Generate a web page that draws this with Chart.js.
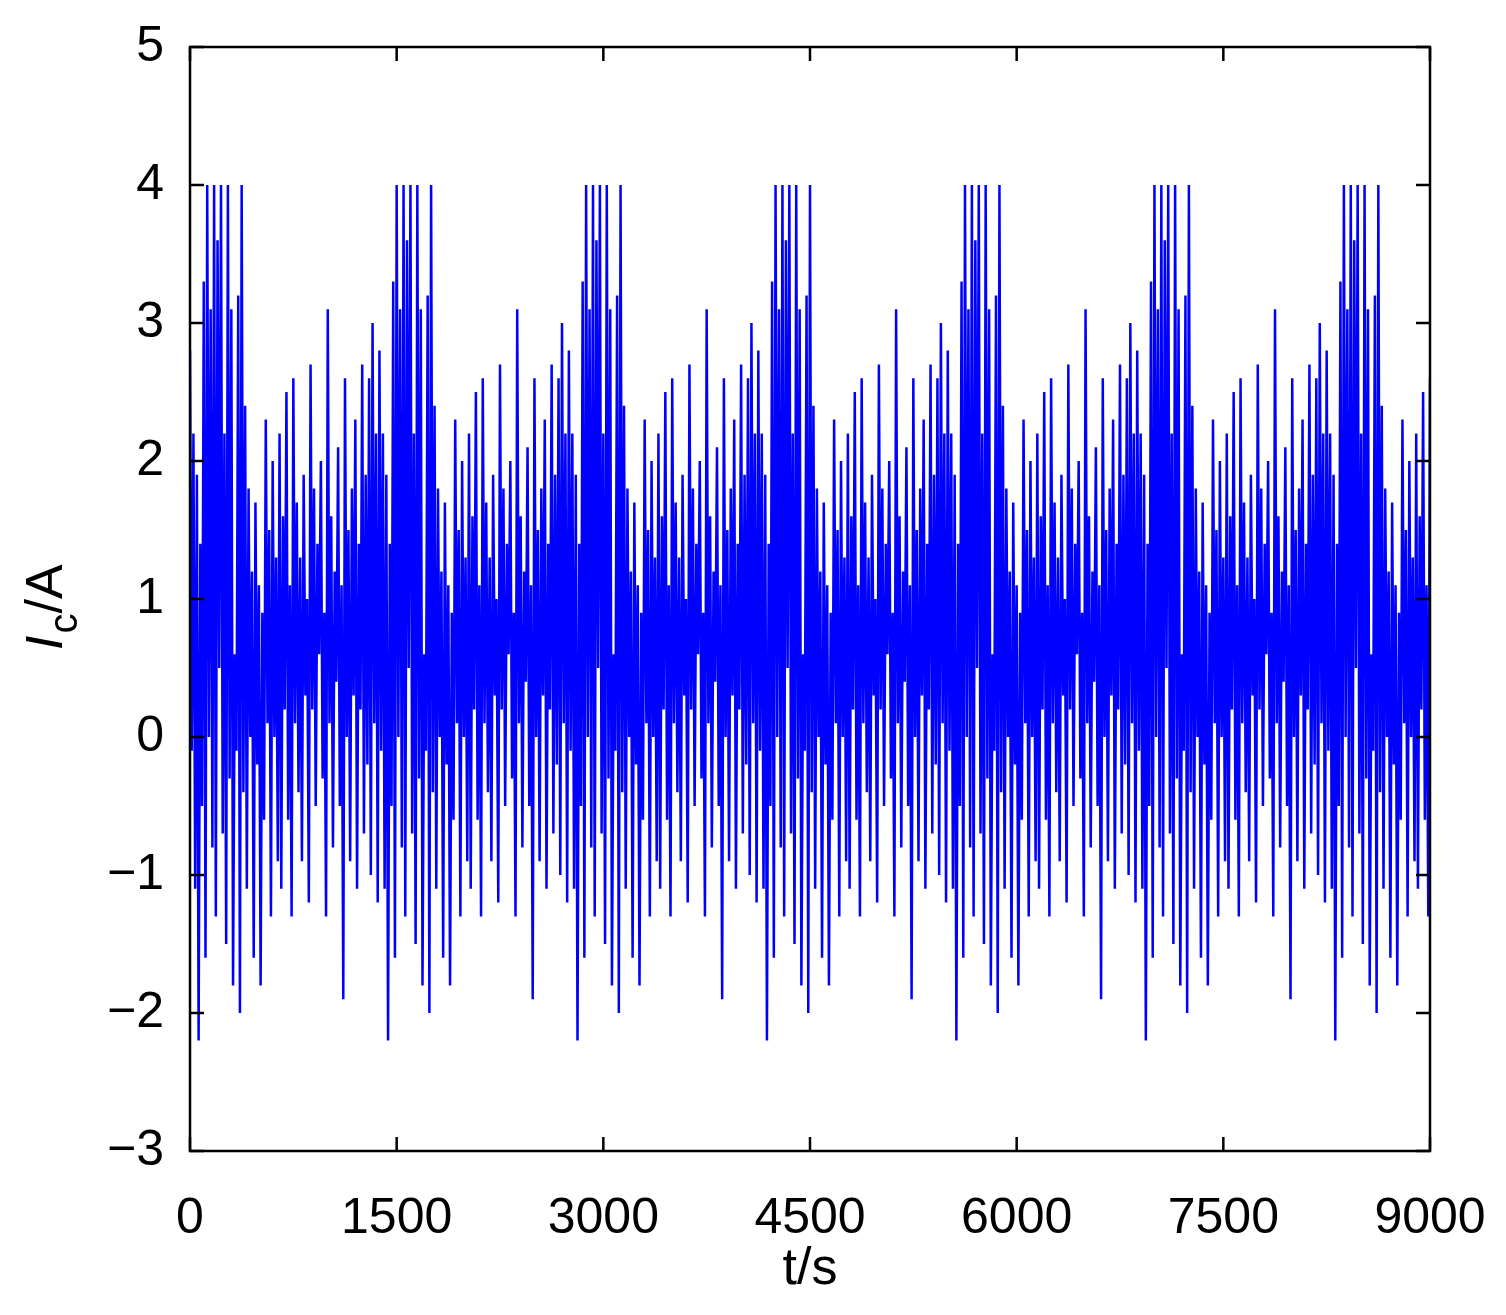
<!DOCTYPE html>
<html>
<head>
<meta charset="utf-8">
<script src="https://cdn.jsdelivr.net/npm/chart.js@4/dist/chart.umd.min.js"></script>
<style>
  html, body { margin: 0; padding: 0; background: #fff; }
  #wrap { width: 1506px; height: 1315px; }
</style>
</head>
<body>
<div id="wrap"><canvas id="c" width="1506" height="1315"></canvas></div>
<script>
// one cycle of the current signal, period ~1375 s
const cycleValues = [2.8,-0.1,2.2,-1.1,1.9,-2.2,1.4,-0.5,3.3,-1.6,4.0,0.0,3.1,-0.8,4.0,-1.3,3.6,0.5,4.0,-0.7,
  2.2,-1.5,4.0,-0.3,3.1,-1.8,0.6,-0.1,3.2,-2.0,4.0,-0.4,2.4,-1.1,1.8,0.0,1.2,-1.6,1.7,-0.2,
  1.1,-1.8,0.9,-0.6,2.3,0.1,1.5,-1.3,2.0,0.0,1.3,-0.9,2.2,-1.1,1.6,0.2,2.5,-0.6,1.1,-1.3,
  2.6,0.1,1.7,-0.4,1.3,-0.9,1.9,0.3,1.0,-1.2,2.7,0.2,1.8,-0.5,1.4,0.6,2.0,-0.3,0.9,-1.3,
  3.1,0.1,1.6,-0.8,1.2,0.4,2.1,-0.5,1.1,-1.9,2.6,0.0,1.5,-0.9,1.8,0.3,2.3,-1.1,1.4,0.2,
  2.7,-0.7,1.9,-0.2,2.6,-1.0,3.0,0.1,2.2,-1.2];
const period = 1375;
const tEnd = 9000;
const xTicks = [0, 1500, 3000, 4500, 6000, 7500, 9000];
const yTicks = [-3, -2, -1, 0, 1, 2, 3, 4, 5];

const dt = period / cycleValues.length;
const points = [];
for (let t = 0, i = 0; t <= tEnd; t += dt, i++) {
  points.push({ x: t, y: cycleValues[i % cycleValues.length] });
}

const FONT = 'Liberation Sans, Arial, sans-serif';

const framePlugin = {
  id: 'frame',
  afterDraw(chart) {
    const { ctx, chartArea: a, scales } = chart;
    ctx.save();
    ctx.strokeStyle = '#000';
    ctx.lineWidth = 2.5;
    ctx.strokeRect(a.left, a.top, a.right - a.left, a.bottom - a.top);
    const L = 14;
    ctx.beginPath();
    xTicks.forEach(v => {
      const x = scales.x.getPixelForValue(v);
      ctx.moveTo(x, a.bottom); ctx.lineTo(x, a.bottom - L);
      ctx.moveTo(x, a.top); ctx.lineTo(x, a.top + L);
    });
    yTicks.forEach(v => {
      const y = scales.y.getPixelForValue(v);
      ctx.moveTo(a.left, y); ctx.lineTo(a.left + L, y);
      ctx.moveTo(a.right, y); ctx.lineTo(a.right - L, y);
    });
    ctx.stroke();
    // axis titles
    ctx.fillStyle = '#000';
    ctx.textAlign = 'center';
    ctx.textBaseline = 'middle';
    ctx.font = '52px ' + FONT;
    ctx.fillText('t/s', (a.left + a.right) / 2, 1270);
    ctx.translate(48, 600);
    ctx.rotate(-Math.PI / 2);
    ctx.textAlign = 'left';
    ctx.font = 'italic 52px ' + FONT;
    const wI = ctx.measureText('I').width;
    ctx.fillText('I', -50, 0);
    ctx.font = '40px ' + FONT;
    ctx.fillText('c', -50 + wI + 2, 18);
    const wc = ctx.measureText('c').width;
    ctx.font = '52px ' + FONT;
    ctx.fillText('/A', -50 + wI + wc + 2, 0);
    ctx.restore();
  }
};

new Chart(document.getElementById('c'), {
  type: 'line',
  data: {
    datasets: [{
      data: points,
      borderColor: '#0000ff',
      borderWidth: 2.5,
      pointRadius: 0,
      tension: 0,
      fill: false
    }]
  },
  options: {
    responsive: false,
    animation: false,
    events: [],
    layout: { padding: { top: 47, right: 76, left: 0, bottom: 0 } },
    plugins: { legend: { display: false }, tooltip: { enabled: false } },
    scales: {
      x: {
        type: 'linear', min: 0, max: tEnd,
        afterBuildTicks: s => { s.ticks = xTicks.map(v => ({ value: v })); },
        afterFit: s => { s.height = 164; s.paddingLeft = 0; s.paddingRight = 0; },
        grid: { display: false },
        border: { display: false },
        ticks: { color: '#000', font: { family: FONT, size: 50 }, padding: 30, maxRotation: 0,
          callback: v => String(v) }
      },
      y: {
        type: 'linear', min: -3, max: 5,
        afterBuildTicks: s => { s.ticks = yTicks.map(v => ({ value: v })); },
        afterFit: s => { s.width = 190; s.paddingTop = 0; s.paddingBottom = 0; },
        grid: { display: false },
        border: { display: false },
        ticks: { color: '#000', font: { family: FONT, size: 50 }, padding: 18,
          callback: v => v < 0 ? '\u2212' + Math.abs(v) : String(v) }
      }
    }
  },
  plugins: [framePlugin]
});
</script>
</body>
</html>
